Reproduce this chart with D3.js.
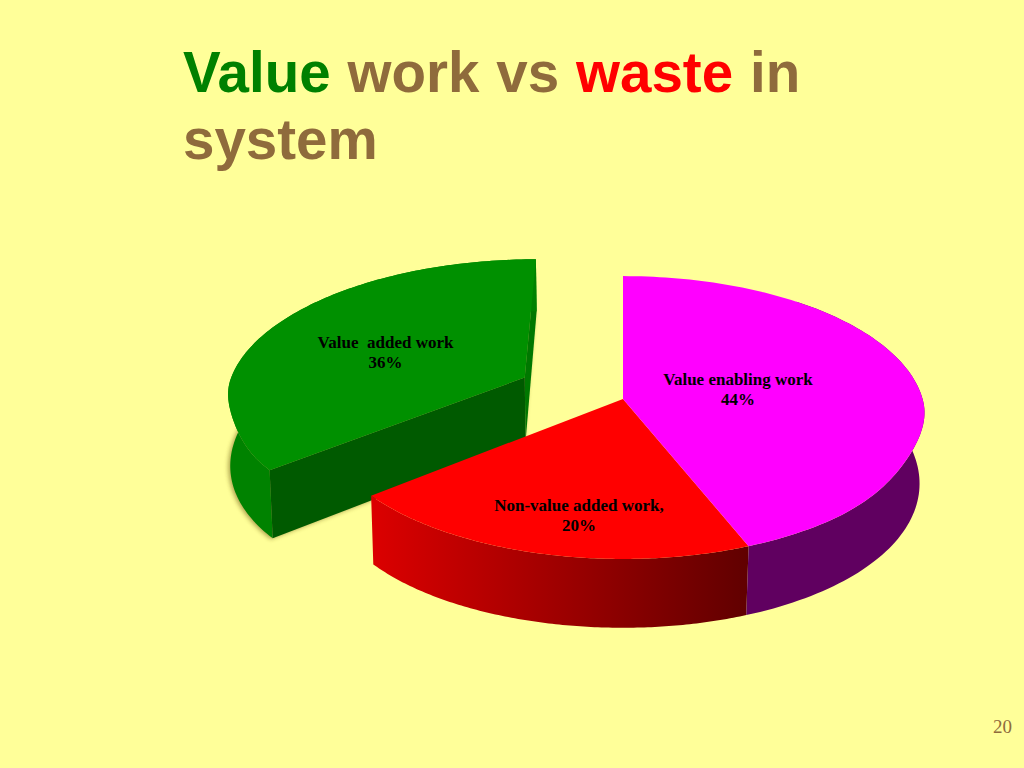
<!DOCTYPE html>
<html>
<head>
<meta charset="utf-8">
<script src="https://cdn.jsdelivr.net/npm/d3@7/dist/d3.min.js"></script>
<style>html,body{margin:0;padding:0;background:#FFFF99;overflow:hidden}svg{display:block}</style>
</head>
<body>
<svg id="c" width="1024" height="768"></svg>
<script>
const categories = ["Value enabling work", "Non-value added work,", "Value  added work"];
const values = [44, 20, 36];
const percentLabels = ["44%", "20%", "36%"];
const explodes = [0, 0, 0.37];
const titleLine1 = [["Value", "#008000"], [" work vs ", "#8F6B3C"], ["waste", "#FF0000"], [" in", "#8F6B3C"]];
const titleLine2 = "system";
const pageNumber = "20";

const svg = d3.select("#c");
svg.append("rect").attr("width", 1024).attr("height", 768).attr("fill", "#FFFF99");

const defs = svg.append("defs");
const f = defs.append("filter").attr("id", "sh").attr("x", "-10%").attr("y", "-10%").attr("width", "120%").attr("height", "120%");
f.append("feGaussianBlur").attr("stdDeviation", 2.2);
const g1 = defs.append("linearGradient").attr("id", "redWall").attr("gradientUnits", "userSpaceOnUse")
  .attr("x1", 371).attr("x2", 749).attr("y1", 0).attr("y2", 0);
g1.append("stop").attr("offset", 0).attr("stop-color", "#DC0000");
g1.append("stop").attr("offset", 1).attr("stop-color", "#600000");

// perspective projection of the pie's plane
const k = 0.131;
const sx = d3.scaleLinear().domain([-1, 1]).range([623 - 299.6, 623 + 299.6]);
const sy = d3.scaleLinear().domain([-1, 1]).range([399 - 139, 399 + 139]);
const sxB = d3.scaleLinear().domain([-1, 0, 1]).range([623 - 297, 623, 623 + 294]);
const projTop = ([X, Y]) => {
  const w = 1 - k * Y, v = Y / w;
  // the side rims sit slightly inside a true ellipse
  let pull = 0;
  if (X > 0 && v > 0 && v < 0.93) pull = 5 * Math.sin(Math.PI * v / 0.93) ** 2;
  if (X < 0 && v > -0.15 && v < 0.517) pull = -3.5 * Math.sin(Math.PI * (v + 0.15) / 0.667) ** 2;
  return [sx(X / w) - pull, sy(v)];
};
const projBot = ([X, Y]) => {
  const w = 1 - k * Y, v = Y / w;
  return [sxB(X / w), sy(v) + 65 + 8.5 * v - 4.5 * v * v];
};
const line = d3.line();

const pie = d3.pie().sort(null).value(d => d)(values);
const slices = pie.map((p, i) => {
  const mid = (p.startAngle + p.endAngle) / 2, d = explodes[i];
  const c = [d * Math.sin(mid), -d * Math.cos(mid)];
  const n = 120;
  const rim = d3.range(n + 1).map(j => {
    const a = p.startAngle + (p.endAngle - p.startAngle) * j / n;
    return [c[0] + Math.sin(a), c[1] - Math.cos(a)];
  });
  return { c, rim };
});

const face = s => line([projTop(s.c), ...s.rim.map(projTop)]) + "Z";
const wall = pts => line([...pts.map(projTop), ...pts.slice().reverse().map(projBot)]) + "Z";
const silhouette = s => line([...[s.c, ...s.rim].map(projBot)]) + "Z";

// exploded slice first (behind), then the two others
const green = slices[2], red = slices[1], mag = slices[0];

svg.append("path").attr("d", silhouette(green)).attr("fill", "#7F7020").attr("opacity", 0.6)
  .attr("transform", "translate(-2,1)").attr("filter", "url(#sh)");
svg.append("path").attr("d", wall([green.c, green.rim[green.rim.length - 1]])).attr("fill", "#007800");
svg.append("path").attr("d", wall(green.rim)).attr("fill", "#008200");
svg.append("path").attr("d", wall([green.c, green.rim[0]])).attr("fill", "#005A00");
svg.append("path").attr("d", face(green)).attr("fill", "#009000");

svg.append("path").attr("d", wall(red.rim)).attr("fill", "url(#redWall)");
svg.append("path").attr("d", face(red)).attr("fill", "#FF0000");

svg.append("path").attr("d", wall(mag.rim.slice(30))).attr("fill", "#600060");
svg.append("path").attr("d", face(mag)).attr("fill", "#FF00FF");

// labels
const labelPos = [[738, 385], [579, 511], [385.5, 348]];
const lab = svg.append("g").attr("font-family", "'Liberation Serif'").attr("font-weight", "bold")
  .attr("font-size", 17).attr("text-anchor", "middle").attr("fill", "#000");
categories.forEach((c, i) => {
  lab.append("text").attr("x", labelPos[i][0]).attr("y", labelPos[i][1])
    .style("white-space", "pre").text(c);
  lab.append("text").attr("x", labelPos[i][0]).attr("y", labelPos[i][1] + 20).text(percentLabels[i]);
});

// title
const t = svg.append("g").attr("font-family", "'Liberation Sans'").attr("font-weight", "bold").attr("font-size", 56.5);
const t1 = t.append("text").attr("x", 183).attr("y", 92).style("white-space", "pre").attr("word-spacing", 1.2);
titleLine1.forEach(([s, col]) => t1.append("tspan").attr("fill", col).text(s));
t.append("text").attr("x", 183).attr("y", 159).attr("fill", "#8F6B3C").text(titleLine2);

svg.append("text").attr("x", 1012).attr("y", 733).attr("text-anchor", "end")
  .attr("font-family", "'Liberation Serif'").attr("font-size", 19).attr("fill", "#8F6B3C").text(pageNumber);
</script>
</body>
</html>
